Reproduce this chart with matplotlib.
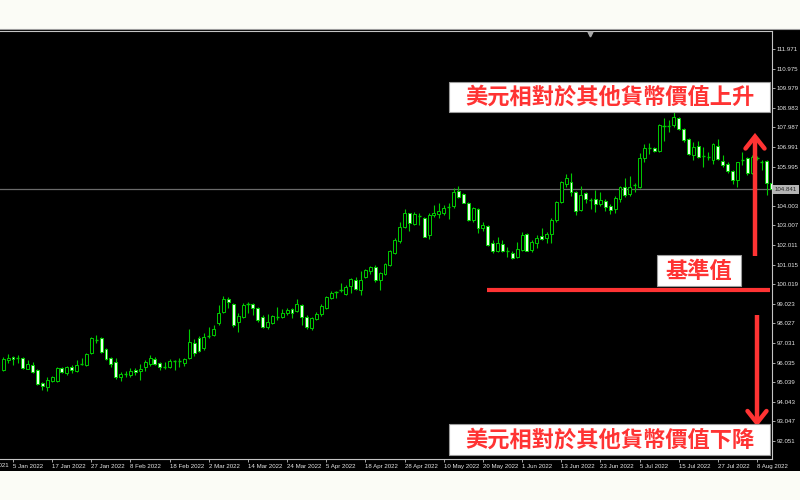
import matplotlib
matplotlib.use("Agg")
import matplotlib.pyplot as plt
import matplotlib.transforms as mtransforms
from matplotlib.patches import Rectangle
from matplotlib.lines import Line2D
import pandas as pd

# ---------------- data (daily candles, 3 Jan 2022 - 11 Aug 2022) ----------------
opens = [95.66, 96.17, 96.34, 96.24, 96.25, 95.73, 95.91, 95.66, 94.98, 94.81,
         95.12, 95.12, 95.74, 95.52, 95.83, 95.63, 95.96, 95.91, 96.51, 97.18,
         97.27, 96.71, 96.25, 96.08, 95.32, 95.44, 95.41, 95.66, 95.63, 95.83,
         95.97, 96.20, 96.03, 95.83, 95.83, 96.13, 96.12, 96.00, 96.25, 97.05,
         97.27, 96.79, 97.38, 97.44, 98.06, 98.59, 99.25, 99.01, 98.12, 98.33,
         99.01, 98.99, 98.79, 98.37, 97.83, 98.07, 98.37, 98.37, 98.54, 98.74,
         98.67, 98.96, 98.37, 97.78, 98.25, 98.51, 98.83, 99.30, 99.60, 99.72,
         99.52, 99.93, 100.23, 99.72, 100.37, 100.71, 100.91, 100.23, 100.54, 100.99,
         101.62, 102.23, 102.91, 103.62, 103.08, 103.50, 103.37, 102.52, 103.52, 103.59,
         103.66, 103.94, 103.99, 104.76, 104.60, 104.16, 103.28, 103.82, 102.86, 102.98,
         102.13, 101.71, 102.06, 101.71, 101.62, 101.39, 101.76, 102.55, 101.76, 102.13,
         102.47, 102.38, 102.57, 103.28, 104.18, 105.10, 105.23, 104.69, 103.79, 104.64,
         104.30, 104.33, 104.08, 104.26, 103.99, 103.84, 104.35, 104.94, 104.59, 105.06,
         104.98, 106.42, 106.96, 106.92, 106.79, 108.07, 108.07, 108.11, 108.48, 107.91,
         107.40, 106.58, 107.04, 106.53, 106.47, 106.33, 107.06, 106.28, 106.11, 105.77,
         105.31, 106.33, 106.45, 105.66, 106.45, 106.24, 106.28, 105.15]
highs = [96.34, 96.47, 96.37, 96.40, 96.30, 96.17, 96.08, 95.69, 95.07, 95.29,
         95.36, 95.83, 95.80, 95.86, 95.91, 96.17, 96.25, 96.54, 97.32, 97.44,
         97.32, 96.76, 96.34, 96.25, 95.58, 95.63, 95.74, 95.74, 95.99, 96.17,
         96.42, 96.30, 96.08, 96.08, 96.20, 96.17, 96.25, 96.25, 97.73, 97.22,
         97.39, 97.52, 97.83, 97.95, 98.96, 99.42, 99.35, 99.08, 98.54, 99.05,
         99.13, 99.08, 98.88, 98.46, 98.51, 98.46, 98.84, 98.74, 98.83, 98.79,
         99.25, 99.01, 98.46, 98.37, 98.62, 99.01, 99.42, 99.69, 99.69, 100.10,
         99.98, 100.32, 100.37, 100.69, 100.77, 100.96, 100.99, 100.66, 101.08, 101.76,
         102.35, 103.20, 103.84, 103.66, 103.71, 103.66, 103.45, 103.62, 104.04, 104.13,
         104.04, 104.13, 104.89, 105.01, 104.64, 104.21, 103.96, 103.87, 103.20, 103.03,
         102.27, 102.44, 102.27, 101.93, 101.72, 102.18, 102.69, 102.61, 102.27, 102.52,
         102.86, 102.69, 103.37, 104.25, 105.26, 105.60, 105.65, 104.76, 105.01, 104.69,
         104.42, 104.81, 104.69, 104.35, 104.10, 104.52, 105.03, 105.43, 105.52, 105.15,
         106.67, 107.13, 107.18, 107.01, 108.16, 108.47, 108.36, 108.79, 108.53, 107.97,
         107.46, 107.26, 107.30, 107.01, 106.75, 107.18, 107.40, 106.59, 106.21, 105.82,
         106.24, 106.75, 106.50, 106.59, 106.55, 106.33, 106.33, 105.31]
lows = [95.63, 96.03, 95.91, 96.03, 95.72, 95.69, 95.49, 94.88, 94.64, 94.61,
        95.07, 95.07, 95.49, 95.41, 95.49, 95.58, 95.90, 95.86, 96.47, 97.02,
        96.51, 96.17, 95.80, 95.18, 95.12, 95.32, 95.32, 95.41, 95.15, 95.63,
        95.86, 95.90, 95.66, 95.69, 95.74, 95.66, 95.83, 95.86, 96.20, 96.37,
        96.59, 96.68, 97.27, 97.39, 97.95, 98.54, 98.79, 97.86, 97.61, 98.28,
        98.54, 98.45, 98.12, 97.78, 97.73, 97.99, 98.20, 98.29, 98.44, 98.29,
        98.62, 97.95, 97.73, 97.69, 98.20, 98.42, 98.74, 99.25, 99.30, 99.64,
        99.47, 99.59, 99.72, 99.47, 100.32, 100.54, 100.15, 99.72, 100.49, 100.94,
        101.55, 102.13, 102.86, 102.72, 103.03, 103.03, 102.40, 102.30, 103.45, 103.37,
        103.54, 103.32, 103.87, 104.38, 104.13, 103.23, 103.20, 102.64, 102.74, 101.96,
        101.62, 101.67, 101.67, 101.39, 101.28, 101.34, 101.71, 101.69, 101.67, 101.84,
        102.27, 102.13, 102.13, 103.20, 104.13, 104.98, 104.52, 103.54, 103.74, 104.13,
        103.84, 103.71, 104.01, 103.74, 103.57, 103.62, 104.21, 104.47, 104.52, 104.69,
        104.89, 106.21, 106.62, 106.76, 106.76, 107.30, 107.75, 108.02, 107.86, 107.25,
        106.58, 106.33, 106.43, 105.99, 106.33, 106.11, 106.33, 105.99, 105.67, 105.10,
        104.97, 106.08, 105.57, 105.61, 106.33, 105.82, 104.55, 104.55]
closes = [96.22, 96.29, 96.20, 96.25, 95.74, 95.95, 95.57, 94.95, 94.85, 95.15,
          95.29, 95.74, 95.57, 95.80, 95.66, 95.90, 95.97, 96.47, 97.27, 97.19,
          96.59, 96.22, 95.96, 95.32, 95.46, 95.45, 95.63, 95.56, 95.69, 96.08,
          96.29, 95.96, 95.80, 95.84, 96.12, 96.14, 96.11, 96.20, 97.10, 96.51,
          96.64, 97.35, 97.39, 97.74, 98.54, 99.27, 99.11, 97.95, 98.40, 98.96,
          99.02, 98.79, 98.20, 97.86, 98.12, 98.40, 98.38, 98.54, 98.71, 98.57,
          98.99, 98.37, 97.86, 98.29, 98.51, 98.91, 99.39, 99.59, 99.61, 99.73,
          99.89, 100.27, 99.76, 100.23, 100.74, 100.91, 100.23, 100.57, 101.03, 101.71,
          102.27, 102.91, 103.62, 103.15, 103.59, 103.51, 102.44, 103.54, 103.66, 103.74,
          103.91, 103.95, 104.72, 104.47, 104.16, 103.28, 103.87, 102.86, 103.03, 102.01,
          101.71, 102.10, 101.72, 101.70, 101.34, 101.79, 102.52, 101.72, 102.18, 102.38,
          102.33, 102.55, 103.28, 104.18, 105.20, 105.40, 104.69, 103.74, 104.55, 104.35,
          104.29, 104.08, 104.28, 103.96, 103.79, 104.38, 104.94, 104.55, 104.98, 105.07,
          106.42, 106.96, 106.97, 106.79, 108.11, 108.08, 108.06, 108.53, 107.91, 107.35,
          106.62, 107.01, 106.50, 106.54, 106.46, 107.13, 106.38, 106.08, 105.77, 105.31,
          106.21, 106.34, 105.66, 106.50, 106.44, 106.25, 105.15, 104.841]

price_ticks = [111.971, 110.975, 109.979, 108.983, 107.987, 106.991, 105.995,
               104.999, 104.003, 103.007, 102.011, 101.015, 100.019, 99.023,
               98.027, 97.031, 96.035, 95.039, 94.043, 93.047, 92.051]

# trading calendar (broker had no bar on Good Friday)
all_dates = pd.bdate_range("2021-12-24", "2022-08-11")
all_dates = all_dates[all_dates != pd.Timestamp("2022-04-15")]
offset = list(all_dates).index(pd.Timestamp("2022-01-03"))
date_labels = [f"{d.day} {d.strftime('%b %Y')}" for d in all_dates]

up_text = "美元相對於其他貨幣價值上升"
base_text = "基準值"
down_text = "美元相對於其他貨幣價值下降"

# ---------------- styling ----------------
W, H = 800, 500
GREEN = "#00cc00"
BEAR_FILL = "#eaffea"
RED = "#ff3333"
AXC = "#c4c4c4"
CJK = ["Noto Sans CJK TC", "DejaVu Sans"]
SMALL = ["Liberation Sans", "DejaVu Sans"]
FS = 4.4


def fx(x):
    return x / W


def fy(y):
    return 1 - y / H


fig = plt.figure(figsize=(8, 5), dpi=100, facecolor="#fbfcf6")

# black terminal background + separator
fig.add_artist(Rectangle((0, fy(471)), 1, (471 - 30) / H, transform=fig.transFigure,
                         facecolor="black", edgecolor="none", zorder=-2))
fig.add_artist(Line2D([0, 1], [fy(29.5)] * 2, transform=fig.transFigure,
                      color="#9c9c9c", lw=0.8, zorder=-1))

ax = fig.add_axes([0, fy(459), 772 / W, (459 - 31) / H])
ax.set_facecolor("black")

# candles
for j, (o, h, l, c) in enumerate(zip(opens, highs, lows, closes)):
    ax.vlines(j, l, h, color=GREEN, lw=0.8, zorder=2)
    if abs(c - o) < 0.03:
        ax.hlines((o + c) / 2, j - 0.32, j + 0.32, color=GREEN, lw=1.0, zorder=3)
    else:
        ax.add_patch(Rectangle((j - 0.3, min(o, c)), 0.6, abs(c - o),
                               facecolor="black" if c > o else BEAR_FILL,
                               edgecolor=GREEN, lw=0.7, zorder=3))

# current price line
ax.axhline(closes[-1], color="#6a6a6a", lw=0.9, zorder=1.5)

for s in ("top", "right", "bottom"):
    ax.spines[s].set_color(AXC)
    ax.spines[s].set_linewidth(0.8)
ax.spines["left"].set_visible(False)

# price axis (the tick hidden under the price tag keeps no label)
ax.yaxis.tick_right()
ax.set_yticks(price_ticks)
ax.set_yticklabels(["" if abs(v - closes[-1]) < 0.3 else f"{v:.3f}" for v in price_ticks],
                   family=SMALL)
ax.tick_params(axis="y", colors=AXC, labelcolor="#e6e6e6", length=2.5, width=0.6,
               labelsize=FS, pad=1.0, direction="out")

# date axis
tick_pos = list(range(-offset, len(opens), 8))
ax.set_xticks(tick_pos)
ax.set_xticklabels([date_labels[p + offset] for p in tick_pos], family=SMALL, ha="left")
ax.tick_params(axis="x", colors=AXC, labelcolor="#e6e6e6", length=2.2, width=0.6,
               labelsize=FS, pad=1.2, direction="out")

# limits after the ticks (set_xticks widens the view otherwise)
ax.set_xlim((0 - 3.2) / 4.895, (772 - 3.2) / 4.895)
ax.set_ylim(114.461 - 0.050813 * 459, 114.461 - 0.050813 * 31)

# label whose tick lies left of the visible window
ax.text(-offset, -0.0105, date_labels[0], transform=mtransforms.blended_transform_factory(
    ax.transData, ax.transAxes), ha="left", va="top", fontsize=FS, family=SMALL,
    color="#e6e6e6", clip_on=False)

# current price tag
ax.text(1.0 + 2.5 / 772, closes[-1], f"{closes[-1]:.3f}",
        transform=mtransforms.blended_transform_factory(ax.transAxes, ax.transData),
        ha="left", va="center", fontsize=FS, family=SMALL, color="#262626",
        bbox=dict(boxstyle="square,pad=0.3", fc="#b4b4b4", ec="none"),
        zorder=10, clip_on=False)

# chart-shift marker
ax.plot([590 / 772], [1 - 2.5 / 428], marker="v", color="#a8a8a8", ms=3.5,
        transform=ax.transAxes, clip_on=False, zorder=5)

# ---------------- annotations ----------------
def add_line(xs, ys, lw=3.2, z=5, **kw):
    fig.add_artist(Line2D([fx(v) for v in xs], [fy(v) for v in ys],
                          transform=fig.transFigure, color=RED, lw=lw, zorder=z, **kw))


def add_box(x0, y0, x1, y1, text):
    fig.add_artist(Rectangle((fx(x0), fy(y1)), (x1 - x0) / W, (y1 - y0) / H,
                             transform=fig.transFigure, facecolor="white",
                             edgecolor="#9c9c9c", lw=0.8, zorder=6))
    fig.text(fx((x0 + x1) / 2), fy((y0 + y1) / 2 + 0.5), text, ha="center", va="center",
             color=RED, fontsize=16, fontweight="bold", family=CJK, zorder=7)


# baseline
add_line([487, 770], [290, 290], lw=3.0, solid_capstyle="butt")
# up arrow
add_line([755, 755], [256, 138], solid_capstyle="butt")
add_line([745.5, 755, 764.5], [148.5, 136.5, 148.5], solid_capstyle="round",
         solid_joinstyle="miter")
# down arrow
add_line([757, 757], [315, 423], solid_capstyle="butt", z=4)
add_line([747.5, 757, 766.5], [411, 423, 411], solid_capstyle="round",
         solid_joinstyle="miter", z=4)

add_box(449, 82, 770, 112, up_text)
add_box(657, 255, 741, 286, base_text)
add_box(449, 424, 770, 455, down_text)

fig.savefig("out.png", dpi=100, facecolor=fig.get_facecolor())
